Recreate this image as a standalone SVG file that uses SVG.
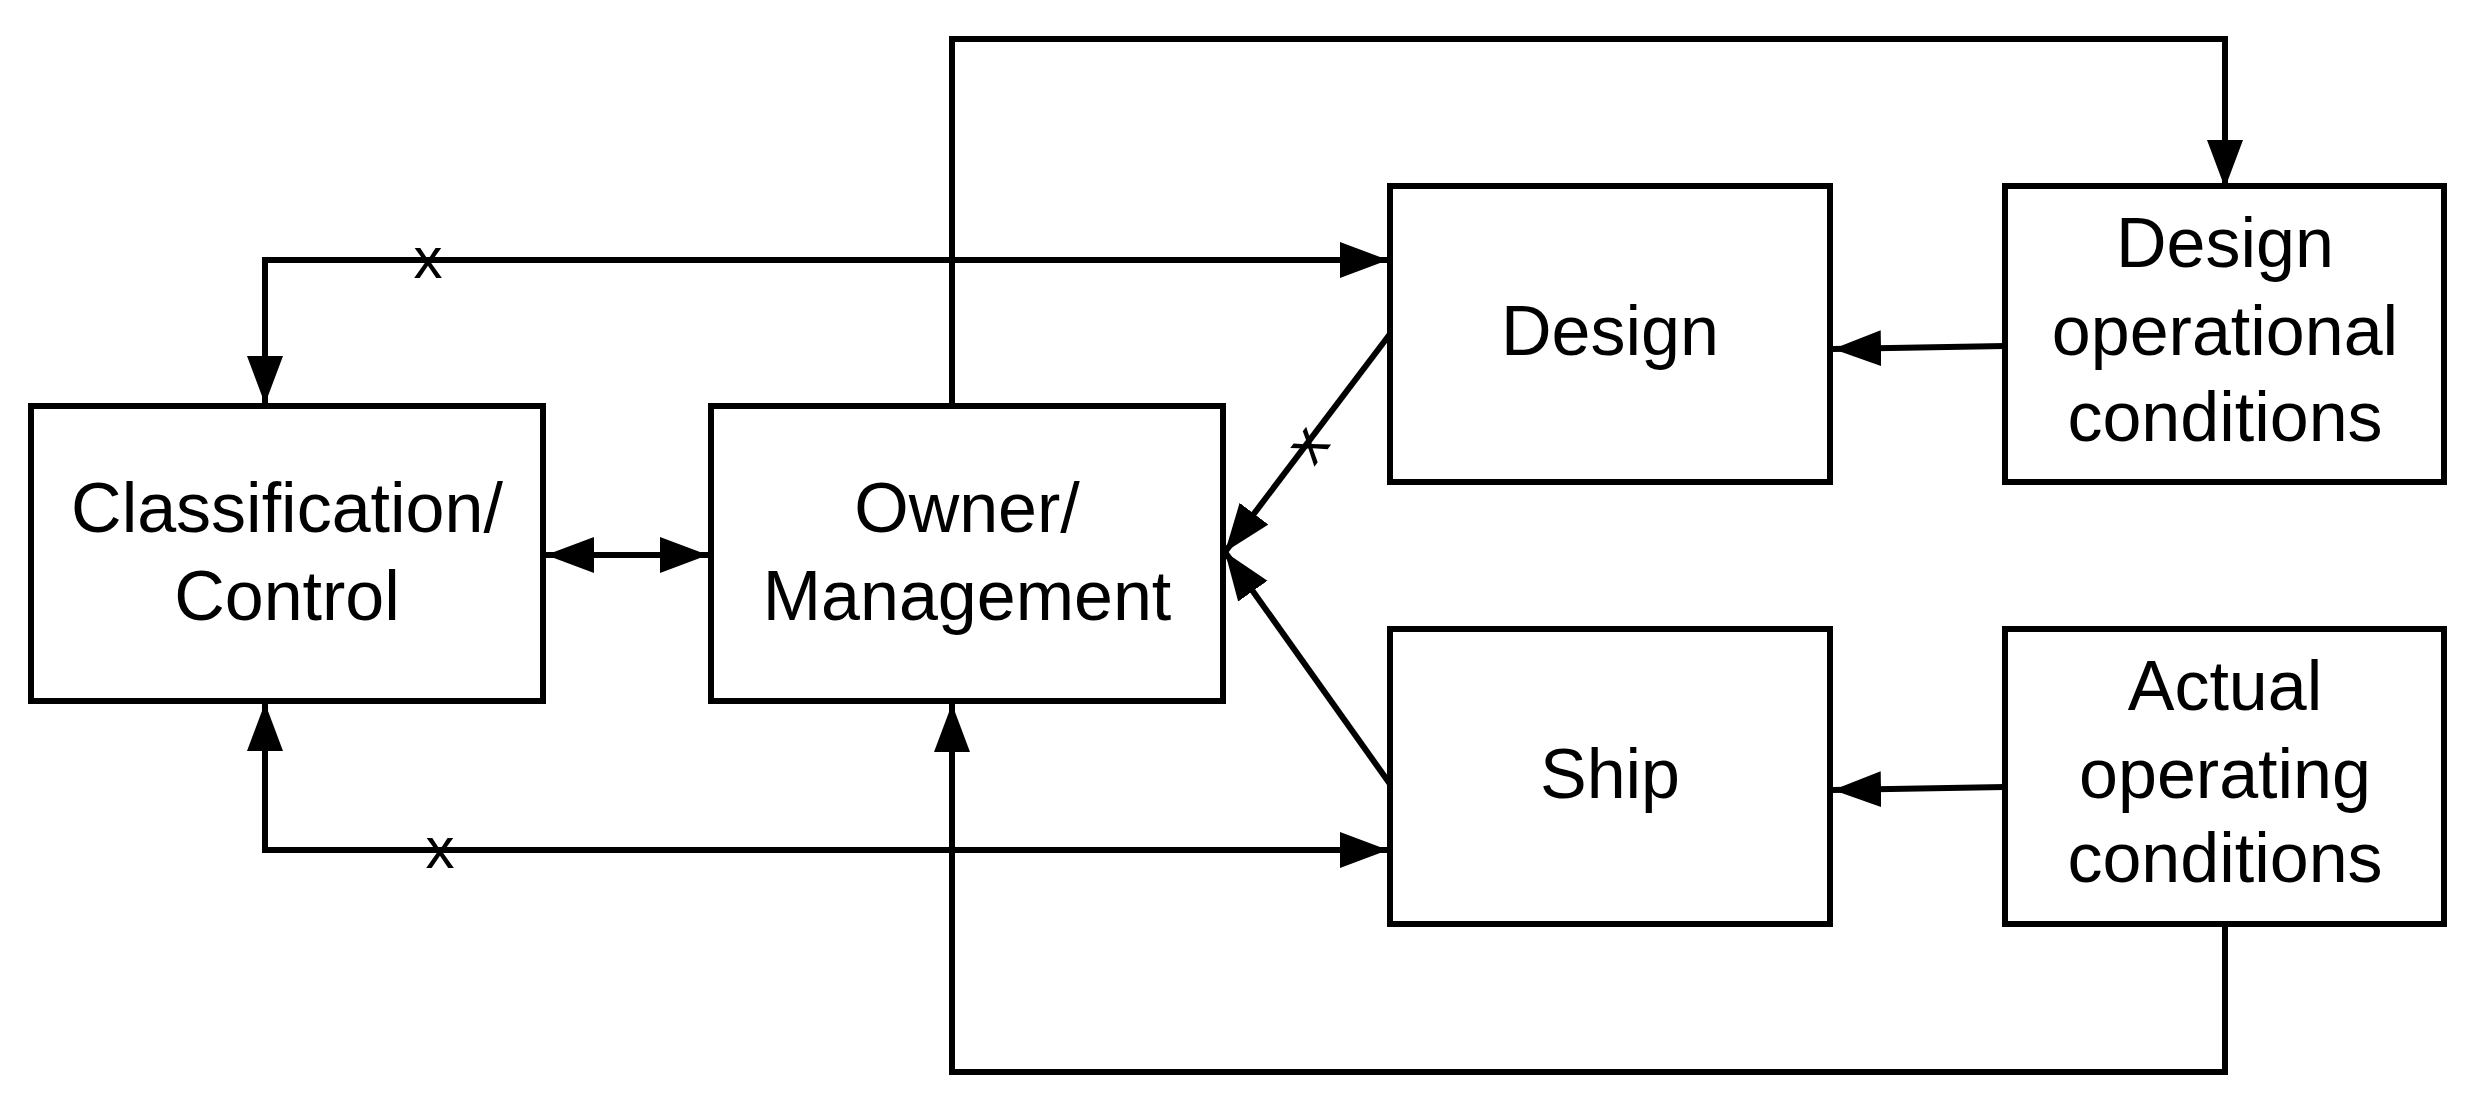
<svg xmlns="http://www.w3.org/2000/svg" width="2471" height="1102" viewBox="0 0 2471 1102">
<style>
.b{fill:#fff;stroke:#000;stroke-width:6}
.t{font-family:"Liberation Sans",Arial,sans-serif;font-size:70px;text-anchor:middle;fill:#000}
.x{font-family:"Liberation Sans",Arial,sans-serif;font-size:58px;text-anchor:middle;fill:#000}
.c{fill:none;stroke:#000;stroke-width:6}
</style>
<defs>
<marker id="a" markerUnits="userSpaceOnUse" markerWidth="50" markerHeight="40" refX="48" refY="18" orient="auto-start-reverse"><path d="M0,0 L48,18 L0,36 Z" fill="#000"/></marker>
</defs>
<rect width="2471" height="1102" fill="#fff"/>
<g id="connectors">
<polyline class="c" points="952,406 952,39 2225,39 2225,188" marker-end="url(#a)"/>
<polyline class="c" points="265,404 265,260 1388,260" marker-start="url(#a)" marker-end="url(#a)"/>
<polyline class="c" points="265,703 265,850 1388,850" marker-start="url(#a)" marker-end="url(#a)"/>
<line class="c" x1="546" y1="555" x2="708" y2="555" marker-start="url(#a)" marker-end="url(#a)"/>
<polyline class="c" points="2225,924 2225,1072 952,1072 952,704" marker-end="url(#a)"/>
<line class="c" x1="2005" y1="346" x2="1833" y2="349" marker-end="url(#a)"/>
<line class="c" x1="2005" y1="787" x2="1833" y2="790" marker-end="url(#a)"/>
<line class="c" x1="1390" y1="334" x2="1225" y2="552" marker-end="url(#a)"/>
<line class="c" x1="1390" y1="784" x2="1225" y2="552" marker-end="url(#a)"/>
<text class="x" x="428" y="278">x</text>
<text class="x" x="440" y="868">x</text>
<text class="x" x="1310" y="462" transform="rotate(-53 1310 446)">x</text>
</g>
<g id="classification"><rect class="b" x="31" y="406" width="512" height="295"/><text class="t" x="287" y="532">Classification/</text><text class="t" x="287" y="620">Control</text></g>
<g id="owner"><rect class="b" x="711" y="406" width="512" height="295"/><text class="t" x="967" y="532">Owner/</text><text class="t" x="967" y="620">Management</text></g>
<g id="design"><rect class="b" x="1390" y="186" width="440" height="296"/><text class="t" x="1610" y="355">Design</text></g>
<g id="doc"><rect class="b" x="2005" y="186" width="439" height="296"/><text class="t" x="2225" y="267">Design</text><text class="t" x="2225" y="355">operational</text><text class="t" x="2225" y="441">conditions</text></g>
<g id="ship"><rect class="b" x="1390" y="629" width="440" height="295"/><text class="t" x="1610" y="798">Ship</text></g>
<g id="aoc"><rect class="b" x="2005" y="629" width="439" height="295"/><text class="t" x="2225" y="710">Actual</text><text class="t" x="2225" y="798">operating</text><text class="t" x="2225" y="882">conditions</text></g>
</svg>
